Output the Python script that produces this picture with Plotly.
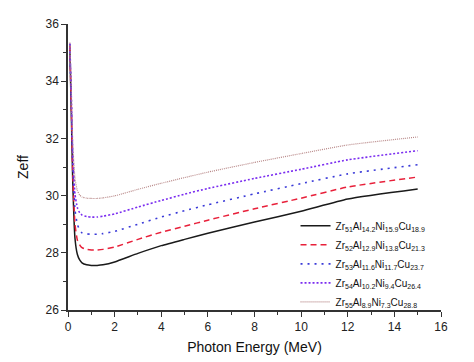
import plotly.graph_objects as go

energy = [0.08, 0.1, 0.15, 0.2, 0.3, 0.4, 0.5, 0.6, 0.8, 1.0, 1.25, 1.5, 2, 3, 4, 5, 6, 8, 10, 12, 15]

zeff_51 = [35.2, 34.4, 32.6, 30.6, 28.5, 27.95, 27.75, 27.65, 27.58, 27.56, 27.56, 27.58, 27.68, 27.98, 28.25, 28.47, 28.68, 29.08, 29.45, 29.88, 30.23]
zeff_52 = [35.25, 34.5, 32.8, 30.9, 29.0, 28.45, 28.28, 28.18, 28.12, 28.1, 28.1, 28.12, 28.2, 28.47, 28.72, 28.93, 29.14, 29.54, 29.91, 30.3, 30.65]
zeff_53 = [35.3, 34.6, 33.0, 31.2, 29.5, 29.0, 28.8, 28.7, 28.66, 28.65, 28.65, 28.67, 28.75, 29.0, 29.25, 29.47, 29.68, 30.06, 30.42, 30.76, 31.08]
zeff_54 = [35.32, 34.7, 33.2, 31.6, 30.05, 29.58, 29.4, 29.32, 29.27, 29.25, 29.25, 29.28, 29.36, 29.6, 29.83, 30.05, 30.25, 30.6, 30.92, 31.25, 31.57]
zeff_55 = [35.35, 34.8, 33.4, 31.9, 30.6, 30.18, 30.02, 29.95, 29.91, 29.9, 29.9, 29.92, 29.99, 30.22, 30.43, 30.63, 30.82, 31.16, 31.47, 31.77, 32.05]

names = [
    "Zr<sub>51</sub>Al<sub>14.2</sub>Ni<sub>15.9</sub>Cu<sub>18.9</sub>",
    "Zr<sub>52</sub>Al<sub>12.9</sub>Ni<sub>13.8</sub>Cu<sub>21.3</sub>",
    "Zr<sub>53</sub>Al<sub>11.6</sub>Ni<sub>11.7</sub>Cu<sub>23.7</sub>",
    "Zr<sub>54</sub>Al<sub>10.2</sub>Ni<sub>9.4</sub>Cu<sub>26.4</sub>",
    "Zr<sub>55</sub>Al<sub>8.9</sub>Ni<sub>7.3</sub>Cu<sub>28.8</sub>",
]
series = [zeff_51, zeff_52, zeff_53, zeff_54, zeff_55]
colors = ["#1a1a1a", "#e8203a", "#3a3ad8", "#7a2cf0", "#b88888"]
dashes = ["solid", "6px,4px", "2px,5px", "2px,2px", "1px,1px"]
widths = [1.5, 1.5, 1.6, 1.6, 1.2]

fig = go.Figure()
for ys, nm, c, d, w in zip(series, names, colors, dashes, widths):
    fig.add_trace(go.Scatter(x=energy, y=ys, mode="lines", name=nm,
                             line=dict(color=c, dash=d, width=w, shape="spline", smoothing=0.5)))

axis_common = dict(
    showline=True, linecolor="#333333", linewidth=1.5, ticks="outside", ticklen=5,
    tickwidth=1.2, tickcolor="#333333", showgrid=False, zeroline=False, automargin=False,
    tickfont=dict(size=12, color="#222222"),
    minor=dict(ticks="outside", ticklen=3, tickwidth=1, tickcolor="#333333", dtick=1),
)

fig.update_layout(
    width=474, height=362,
    margin=dict(l=60, r=41, t=16, b=60, autoexpand=False),
    paper_bgcolor="white", plot_bgcolor="white",
    font=dict(family="Liberation Sans, Arial, sans-serif", color="#111111"),
    xaxis=dict(range=[0, 16], dtick=2, title=dict(text="Photon Energy (MeV)", font=dict(size=14), standoff=9), **axis_common),
    yaxis=dict(range=[26, 36], dtick=2, title=dict(text="Zeff", font=dict(size=14), standoff=14), **axis_common),
    legend=dict(x=0.61, y=0.345, xanchor="left", yanchor="top", font=dict(size=10),
                bgcolor="rgba(0,0,0,0)", tracegroupgap=0, itemwidth=30),
    showlegend=True,
)

fig.write_html("out.html")
